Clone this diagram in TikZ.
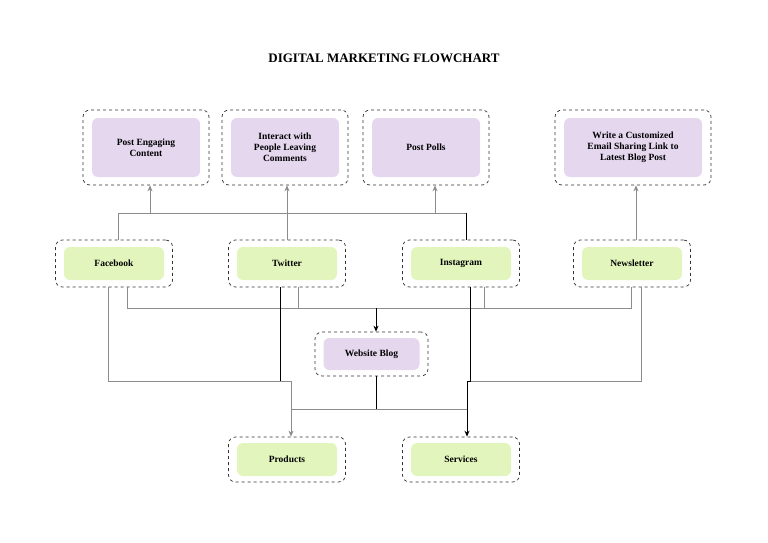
\documentclass[tikz,border=0pt]{standalone}
\usepackage{fontspec}
\setmainfont{Liberation Serif}
\usetikzlibrary{arrows.meta}
\definecolor{grn}{HTML}{E2F5BC}
\definecolor{pur}{HTML}{E4D7EE}
\begin{document}
\begin{tikzpicture}[x=1pt,y=-1pt,
 outer/.style={draw=black!80,dashed,rounded corners=7pt,line width=0.7pt},
 inner/.style={rounded corners=6pt,align=center,font=\bfseries\fontsize{9.5}{11}\selectfont},
 g/.style={draw=black!45,line width=0.8pt},
 d/.style={draw=black,line width=0.8pt},
 arr/.style={-{Stealth[length=6pt,width=5pt,inset=2pt]}}]
\useasboundingbox (0,0) rectangle (768,543);
\node[font=\bfseries\fontsize{13}{15}\selectfont] (title) at (384,58) {DIGITAL MARKETING FLOWCHART};
% top row
\foreach \n/\x/\w/\t in {pe/146/126/{Post Engaging\\Content},ia/285/126/{Interact with\\People Leaving\\Comments},pp/426/126/{Post Polls},wc/633/156/{Write a Customized\\Email Sharing Link to\\Latest Blog Post}}{
 \node[outer,minimum width=\w,minimum height=75] (\n o) at (\x,147.5) {};
 \node[inner,fill=pur,minimum width=\w-18,minimum height=59] (\n) at (\x,147.5) {\t};
}
% middle row
\foreach \n/\x/\t in {fb/114/Facebook,tw/287/Twitter,ig/461/Instagram,nl/632/Newsletter}{
 \node[outer,minimum width=117,minimum height=47] (\n o) at (\x,263.5) {};
 \node[inner,fill=grn,minimum width=100,minimum height=33] (\n) at (\x,263.5) {\t};
}
\node[outer,minimum width=113,minimum height=44] (wbo) at (371.5,354) {};
\node[inner,fill=pur,minimum width=96,minimum height=32] (wb) at (371.5,354) {Website Blog};
\foreach \n/\x/\t in {pr/287/Products,sv/461/Services}{
 \node[outer,minimum width=117,minimum height=45] (\n o) at (\x,459.5) {};
 \node[inner,fill=grn,minimum width=100,minimum height=33] (\n) at (\x,459.5) {\t};
}
\coordinate (t1) at (118,213);
\coordinate (t2) at (466,213);
% upper connectors
\draw[g] (fbo.north -| t1) -- (t1) -- (t2);
\draw[d] (igo.north -| t2) -- (t2);
\draw[g,arr] (150,213) -- (peo.south -| 150,0);
\draw[g,arr] (435,213) -- (ppo.south -| 435,0);
\draw[g,arr] (two.north -| 287,0) -- (iao.south -| 287,0);
\draw[g,arr] (nlo.north -| 636,0) -- (wco.south -| 636,0);
% bus to blog
\coordinate (b1) at (127,308);
\coordinate (b2) at (631,308);
\draw[g] (fbo.south -| b1) -- (b1) -- (b2) -- (nlo.south -| b2);
\draw[g] (two.south -| 298,0) -- (298,308);
\draw[g] (igo.south -| 484,0) -- (484,308);
\draw[d,arr] (376,308) -- (wbo.north -| 376,0);
% lower
\coordinate (p) at (291,381);
\coordinate (s) at (467,381);
\draw[g] (fbo.south -| 108,0) -- (108,381) -- (p);
\draw[d] (two.south -| 280,0) -- (280,381);
\draw[g,arr] (p) -- (pro.north -| p);
\draw[g] (nlo.south -| 641,0) -- (641,381) -- (s);
\draw[d] (igo.south -| 470,0) -- (470,381) -- (s);
\draw[d,arr] (s) -- (svo.north -| s);
\draw[d] (wbo.south -| 376,0) -- (376,409);
\draw[g] (p |- 0,409) -- (s |- 0,409);
\end{tikzpicture}
\end{document}
